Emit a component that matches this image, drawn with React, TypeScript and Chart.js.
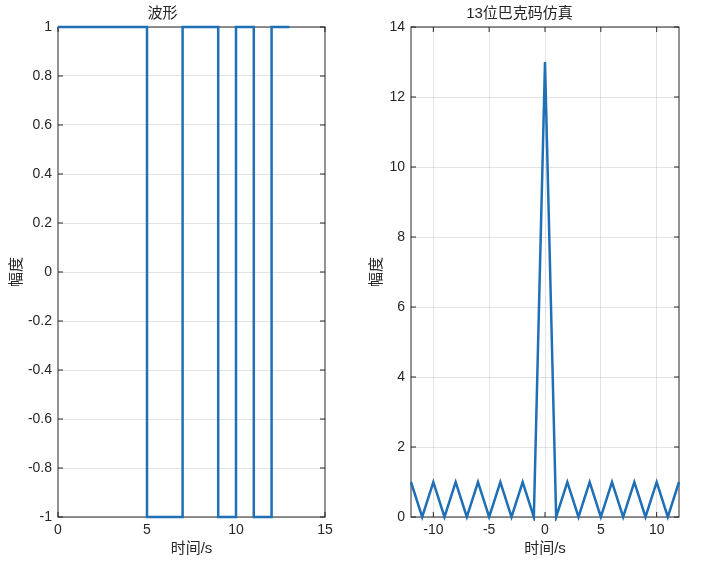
import React, { useEffect, useRef } from 'react';
import Chart from 'chart.js/auto';

// Barker-13 waveform (stairs), last value repeated to close the final step
const waveX = [0, 1, 2, 3, 4, 5, 6, 7, 8, 9, 10, 11, 12, 13];
const waveY = [1, 1, 1, 1, 1, -1, -1, 1, 1, -1, 1, -1, 1, 1];
const waveXTicks = [0, 5, 10, 15];
const waveYTicks = [-1, -0.8, -0.6, -0.4, -0.2, 0, 0.2, 0.4, 0.6, 0.8, 1];

// |autocorrelation| over lags
const lagX = [-12, -11, -10, -9, -8, -7, -6, -5, -4, -3, -2, -1, 0, 1, 2, 3, 4, 5, 6, 7, 8, 9, 10, 11, 12];
const corrY = [1, 0, 1, 0, 1, 0, 1, 0, 1, 0, 1, 0, 13, 0, 1, 0, 1, 0, 1, 0, 1, 0, 1, 0, 1];
const lagXTicks = [-10, -5, 0, 5, 10];
const corrYTicks = [0, 2, 4, 6, 8, 10, 12, 14];

const LINE = '#1f6fb6';
const AXIS = '#262626';
const GRID = 'rgba(38,38,38,0.13)';
const FONT = '"Liberation Sans", "Noto Sans CJK SC", sans-serif';

// box outline + inward tick marks, MATLAB style (drawn under the line)
const boxPlugin = {
  id: 'box',
  beforeDatasetsDraw(chart: any) {
    const { ctx, chartArea: a, scales } = chart;
    const len = 5;
    ctx.save();
    ctx.strokeStyle = AXIS;
    ctx.lineWidth = 1;
    ctx.strokeRect(a.left, a.top, a.right - a.left, a.bottom - a.top);
    ctx.beginPath();
    scales.x.ticks.forEach((t: any) => {
      const px = scales.x.getPixelForValue(t.value);
      ctx.moveTo(px, a.bottom);
      ctx.lineTo(px, a.bottom - len);
      ctx.moveTo(px, a.top);
      ctx.lineTo(px, a.top + len);
    });
    scales.y.ticks.forEach((t: any) => {
      const py = scales.y.getPixelForValue(t.value);
      ctx.moveTo(a.left, py);
      ctx.lineTo(a.left + len, py);
      ctx.moveTo(a.right, py);
      ctx.lineTo(a.right - len, py);
    });
    ctx.stroke();
    ctx.restore();
  },
};

interface SubplotProps {
  left: number;
  title: string;
  xs: number[];
  ys: number[];
  xMin: number;
  xMax: number;
  xTicks: number[];
  yTicks: number[];
  stepped: boolean;
  xGrid: boolean;
  yAxisWidth: number;
  rightPad: number;
}

const Subplot: React.FC<SubplotProps> = (p) => {
  const ref = useRef<HTMLCanvasElement>(null);

  useEffect(() => {
    if (!ref.current) return;
    const chart = new Chart(ref.current, {
      type: 'line',
      data: {
        datasets: [
          {
            data: p.xs.map((x, i) => ({ x, y: p.ys[i] })),
            borderColor: LINE,
            borderWidth: 2.5,
            pointRadius: 0,
            stepped: p.stepped,
            tension: 0,
            fill: false,
            clip: 4,
          },
        ],
      },
      options: {
        animation: false,
        responsive: false,
        layout: { padding: { left: 0, right: p.rightPad, top: 0, bottom: 0 } },
        plugins: {
          legend: { display: false },
          tooltip: { enabled: false },
          title: {
            display: true,
            text: p.title,
            color: AXIS,
            font: { family: FONT, size: 15, weight: 'normal' },
            padding: { top: 5, bottom: 4 },
          },
        },
        scales: {
          x: {
            type: 'linear',
            min: p.xMin,
            max: p.xMax,
            afterBuildTicks: (s: any) => {
              s.ticks = p.xTicks.map((v) => ({ value: v }));
            },
            afterFit: (s: any) => {
              s.height = 53;
            },
            grid: { display: p.xGrid, color: GRID, drawTicks: false },
            border: { display: false },
            ticks: {
              color: AXIS,
              padding: 5,
              font: { family: FONT, size: 14 },
              callback: (v: any) => String(v),
            },
            title: {
              display: true,
              text: '时间/s',
              color: AXIS,
              font: { family: FONT, size: 15 },
              padding: { top: 0, bottom: 12 },
            },
          },
          y: {
            type: 'linear',
            min: p.yTicks[0],
            max: p.yTicks[p.yTicks.length - 1],
            afterBuildTicks: (s: any) => {
              s.ticks = p.yTicks.map((v) => ({ value: v }));
            },
            afterFit: (s: any) => {
              s.width = p.yAxisWidth;
            },
            grid: { display: true, color: GRID, drawTicks: false },
            border: { display: false },
            ticks: {
              color: AXIS,
              padding: 6,
              font: { family: FONT, size: 14 },
              callback: (v: any) => String(v),
            },
            title: {
              display: true,
              text: '幅度',
              color: AXIS,
              font: { family: FONT, size: 15 },
              padding: { top: 8, bottom: 0 },
            },
          },
        },
      },
      plugins: [boxPlugin],
    });
    return () => chart.destroy();
  }, [p]);

  return (
    <canvas
      ref={ref}
      width={360}
      height={570}
      style={{ position: 'absolute', left: p.left, top: 0, width: 360, height: 570 }}
    />
  );
};

export default function App() {
  return (
    <div style={{ position: 'absolute', left: 0, top: 0, width: 720, height: 570, background: '#fff' }}>
      <Subplot
        left={0}
        title="波形"
        xs={waveX}
        ys={waveY}
        xMin={0}
        xMax={15}
        xTicks={waveXTicks}
        yTicks={waveYTicks}
        stepped={true}
        xGrid={false}
        yAxisWidth={58}
        rightPad={35}
      />
      <Subplot
        left={360}
        title="13位巴克码仿真"
        xs={lagX}
        ys={corrY}
        xMin={-12}
        xMax={12}
        xTicks={lagXTicks}
        yTicks={corrYTicks}
        stepped={false}
        xGrid={true}
        yAxisWidth={51}
        rightPad={41}
      />
    </div>
  );
}
